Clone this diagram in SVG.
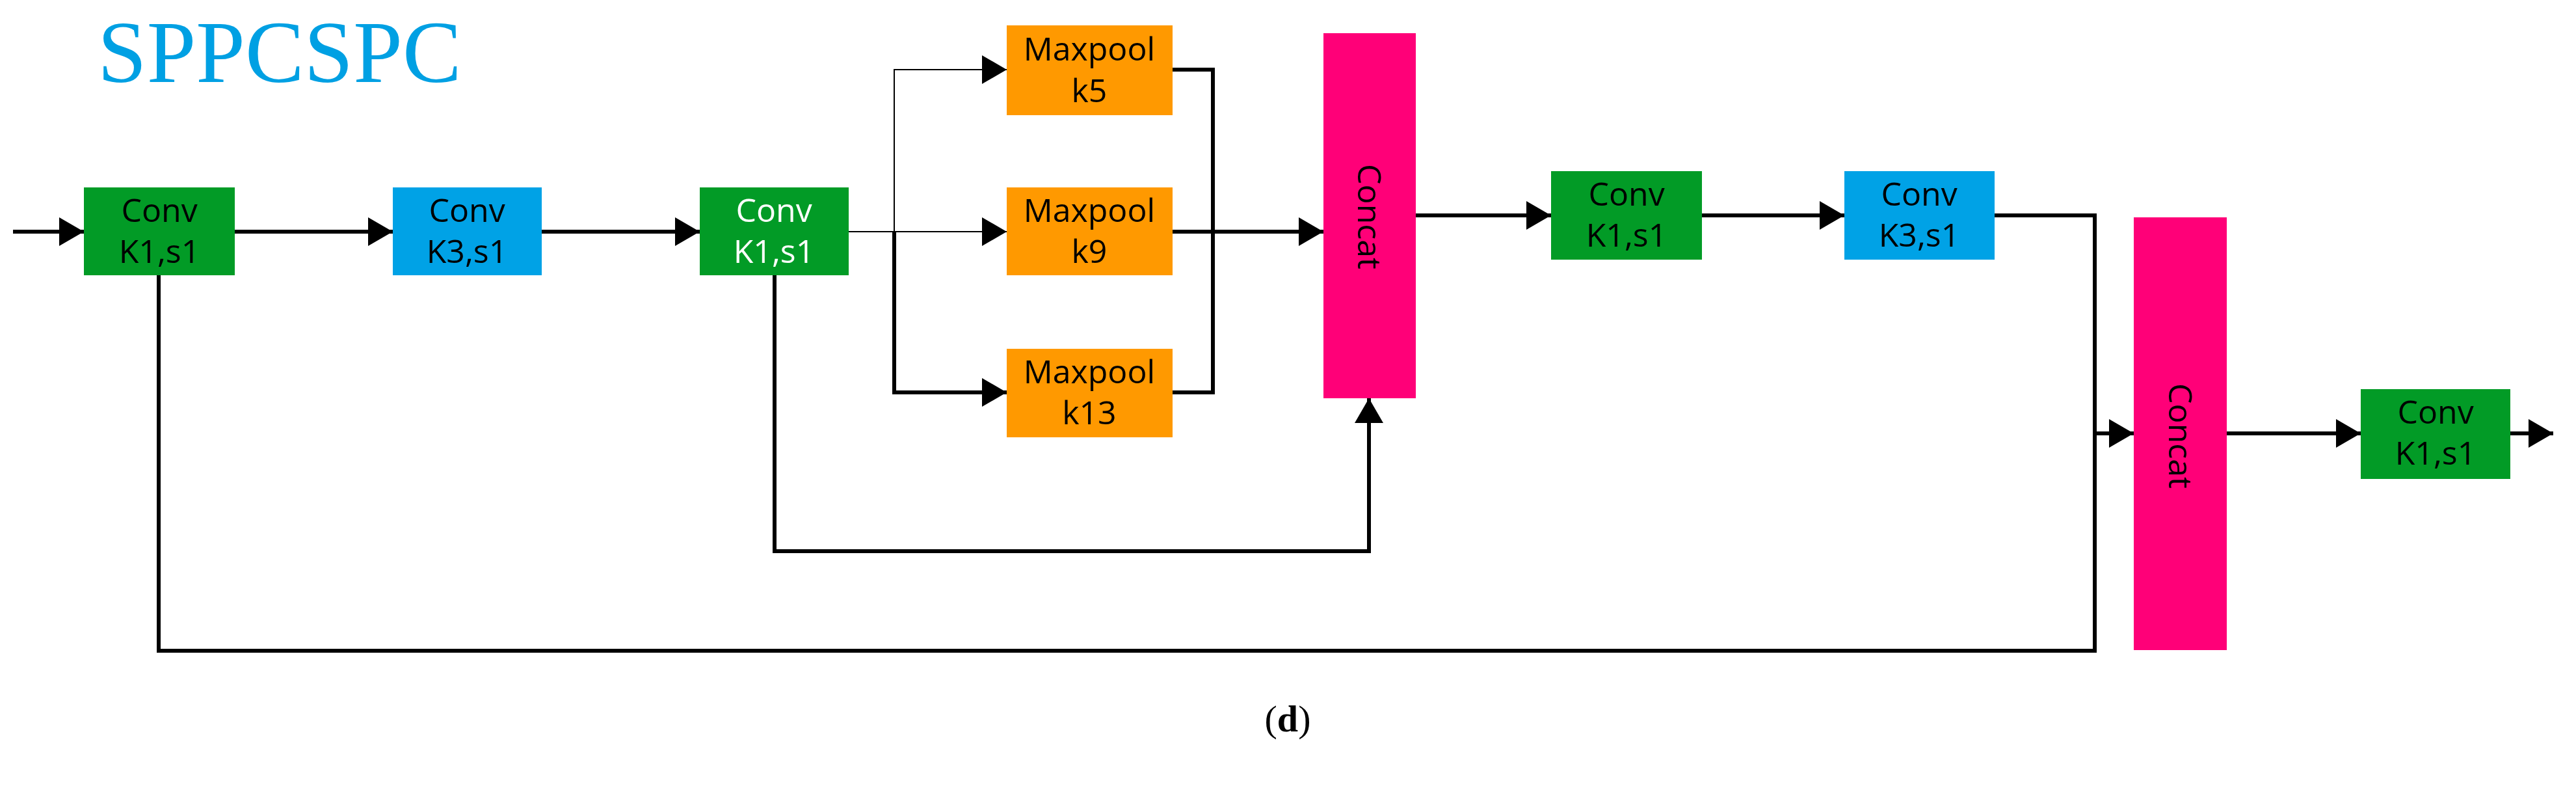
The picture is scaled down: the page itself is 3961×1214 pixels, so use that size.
<svg xmlns="http://www.w3.org/2000/svg" width="3961" height="1214" viewBox="0 0 3961 1214">
<style>
.g{fill:#029b26}.b{fill:#00a2e6}.o{fill:#ff9900}.p{fill:#ff0078}
.t{font-family:"Open Sans","Noto Sans",sans-serif;font-size:50px;text-anchor:middle;fill:#000}
.w{fill:#fff}
.L{fill:none;stroke:#000;stroke-width:6}
.l{fill:none;stroke:#000;stroke-width:2}
</style>
<defs>
<marker id="a" markerUnits="userSpaceOnUse" markerWidth="40" markerHeight="44" refX="38" refY="22" orient="auto"><path d="M0,0 L38,22 L0,44 Z" fill="#000"/></marker>
</defs>
<rect width="3961" height="1214" fill="#fff"/>
<text x="150" y="126" font-family="Liberation Serif,serif" font-size="136" fill="#00a0e3">SPPCSPC</text>
<g id="connectors">
<path class="L" d="M20,356 H129" marker-end="url(#a)"/>
<path class="L" d="M361,356 H604" marker-end="url(#a)"/>
<path class="L" d="M833,356 H1076" marker-end="url(#a)"/>
<path class="l" d="M1305,356 H1548" marker-end="url(#a)"/>
<path class="l" d="M1375,356 V107 H1548" marker-end="url(#a)"/>
<path class="L" d="M1375,356 V603 H1548" marker-end="url(#a)"/>
<path class="L" d="M1803,107 H1865 V603 H1803"/>
<path class="L" d="M1803,356 H2035" marker-end="url(#a)"/>
<path class="L" d="M1191,423 V847 H2105 V612" marker-end="url(#a)"/>
<path class="L" d="M2177,331 H2385" marker-end="url(#a)"/>
<path class="L" d="M2617,331 H2836" marker-end="url(#a)"/>
<path class="L" d="M3067,331 H3221 V1000 H244 V423"/>
<path class="L" d="M3221,666 H3281" marker-end="url(#a)"/>
<path class="L" d="M3424,666 H3630" marker-end="url(#a)"/>
<path class="L" d="M3860,666 H3926" marker-end="url(#a)"/>
</g>
<g id="conv1"><rect class="g" x="129" y="288" width="232" height="135"/><text class="t" x="245" y="341">Conv</text><text class="t" x="245" y="404">K1,s1</text></g>
<g id="conv2"><rect class="b" x="604" y="288" width="229" height="135"/><text class="t" x="718" y="341">Conv</text><text class="t" x="718" y="404">K3,s1</text></g>
<g id="conv3"><rect class="g" x="1076" y="288" width="229" height="135"/><text class="t w" x="1190" y="341">Conv</text><text class="t w" x="1190" y="404">K1,s1</text></g>
<g id="mp5"><rect class="o" x="1548" y="39" width="255" height="138"/><text class="t" x="1675" y="93">Maxpool</text><text class="t" x="1675" y="157">k5</text></g>
<g id="mp9"><rect class="o" x="1548" y="288" width="255" height="135"/><text class="t" x="1675" y="341">Maxpool</text><text class="t" x="1675" y="404">k9</text></g>
<g id="mp13"><rect class="o" x="1548" y="536" width="255" height="136"/><text class="t" x="1675" y="589">Maxpool</text><text class="t" x="1675" y="652">k13</text></g>
<g id="concat1"><rect class="p" x="2035" y="51" width="142" height="561"/><text class="t" transform="translate(2088,333) rotate(90)">Concat</text></g>
<g id="conv4"><rect class="g" x="2385" y="263" width="232" height="136"/><text class="t" x="2501" y="316">Conv</text><text class="t" x="2501" y="379">K1,s1</text></g>
<g id="conv5"><rect class="b" x="2836" y="263" width="231" height="136"/><text class="t" x="2951" y="316">Conv</text><text class="t" x="2951" y="379">K3,s1</text></g>
<g id="concat2"><rect class="p" x="3281" y="334" width="143" height="665"/><text class="t" transform="translate(3335,670) rotate(90)">Concat</text></g>
<g id="conv6"><rect class="g" x="3630" y="598" width="230" height="138"/><text class="t" x="3745" y="651">Conv</text><text class="t" x="3745" y="714">K1,s1</text></g>
<text x="1980" y="1124" font-family="Liberation Serif,serif" font-size="58" text-anchor="middle">(<tspan font-weight="bold">d</tspan>)</text>
</svg>
